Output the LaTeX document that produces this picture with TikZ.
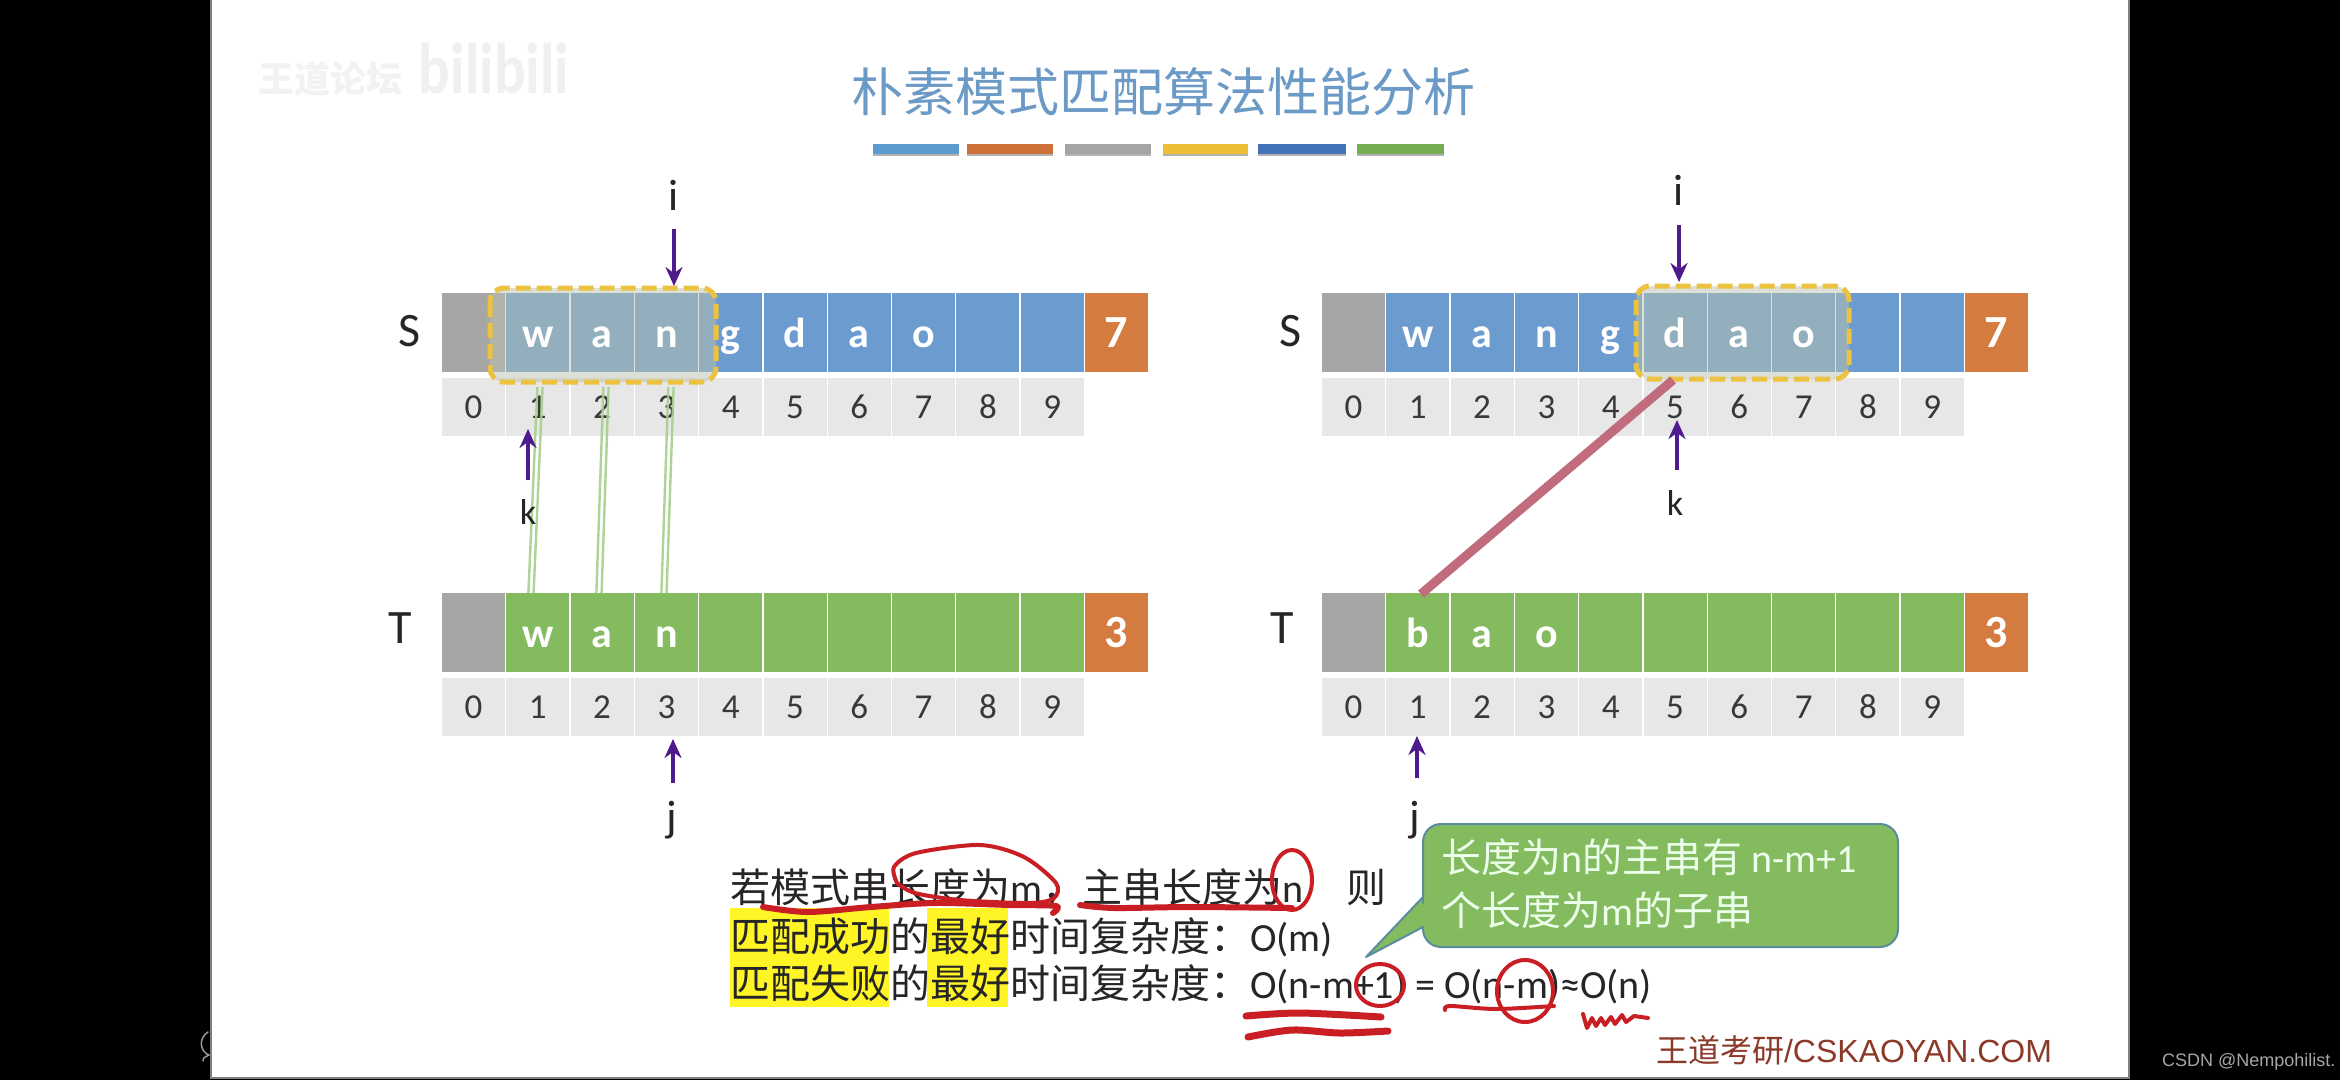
\documentclass[tikz,border=0pt]{standalone}
\usepackage{fontspec}
\setmainfont{Carlito}
\newfontfamily\cjk{Noto Sans CJK SC}
\newfontfamily\arial{Liberation Sans}
\usetikzlibrary{arrows.meta,calc}
\definecolor{cblue}{HTML}{6C9BD0}
\definecolor{corange}{HTML}{D47C40}
\definecolor{cgray}{HTML}{A6A6A6}
\definecolor{cgreen}{HTML}{84BB5E}
\definecolor{cidx}{HTML}{E7E7E7}
\definecolor{cpurple}{HTML}{4F1A8C}
\definecolor{cdash}{HTML}{EBC340}
\definecolor{cink}{HTML}{C81E24}
\definecolor{ctitle}{HTML}{6B9AC6}
\definecolor{cbrand}{HTML}{8B3A2A}
\definecolor{hlfill}{HTML}{BAC3AE}
\definecolor{mismatch}{HTML}{C06C7C}
\definecolor{cmatch}{HTML}{A6CF8C}
\definecolor{cborder}{HTML}{5A8C9E}
\newcommand{\fs}[1]{\fontsize{#1}{#1}\selectfont}
\tikzset{
  cell/.style={minimum width=63pt,minimum height=79pt,inner sep=0pt,outer sep=0pt,fill=#1},
  idx/.style={minimum width=63pt,minimum height=58pt,inner sep=0pt,outer sep=0pt,fill=cidx,text=black!78,font=\fs{35}},
  letter/.style={text=white,font=\fs{42}\bfseries,inner sep=0pt},
  count/.style={text=white,font=\fs{46}\bfseries,inner sep=0pt},
  lab/.style={text=black!85,font=\fs{44},inner sep=0pt},
  rowname/.style={text=black!85,font=\fs{48},inner sep=0pt},
  ptr/.style={cpurple,line width=4pt,-{Stealth[length=19pt,width=17pt]}},
  dashbox/.style={draw=cdash,line width=5pt,rounded corners=14pt,dash pattern=on 15pt off 6pt,fill=hlfill,fill opacity=.5},
  match/.style={draw=cmatch,line width=2.4pt,opacity=.9},
  miss/.style={draw=mismatch,line width=9pt},
  ink/.style={cink,line width=4pt,line cap=round,line join=round},
  inkb/.style={ink,line width=7pt},
  bar/.style={minimum height=10pt,inner sep=0pt,outer sep=0pt,fill=#1},
  body/.style={anchor=west,inner sep=0pt,text=black!85,font=\fs{40}},
  calltext/.style={anchor=west,inner sep=0pt,text=green!8!white,font=\fs{40}},
}
% prefix, left x, top y of strings, body colour, count
\newcommand{\strrow}[5]{%
  \node[cell=cgray] (#1c0) at (#2+31.5,#3+39.5) {};
  \foreach \n in {1,...,9}{\node[cell=#4] (#1c\n) at ({#2+31.5+64.3*\n},#3+39.5) {};}
  \node[cell=corange] (#1end) at ({#2+31.5+64.3*10},#3+39.5) {};
  \node[count] (#1num) at (#1end) {#5};
  \foreach \n in {0,...,9}{\node[idx] (#1i\n) at ({#2+31.5+64.3*\n},#3+114) {\n};}
}
\newcommand{\matchpair}[2]{%
  \draw[match] ([xshift=-2.6pt]#1) -- ([xshift=-2.6pt]#2);
  \draw[match] ([xshift=2.6pt]#1) -- ([xshift=2.6pt]#2);
}
\begin{document}
\begin{tikzpicture}[x=1pt,y=-1pt]
\useasboundingbox (0,0) rectangle (2340,1080);
\fill[black] (0,0) rectangle (2340,1080);
\fill[white] (211,0) rectangle (2129,1077);
\draw[gray,line width=1.5pt] (211,0) -- (211,1078) -- (2129,1078) -- (2129,0);
\draw[gray!80,line width=1.5pt,line cap=round] (208,1032) .. controls (198,1038) and (200,1052) .. (209,1055) .. controls (203,1058) .. (203,1061);

% watermark
\node[text=black!5,font=\cjk\bfseries\fs{36},inner sep=0pt] (wm1) at (330,79) {王道论坛};
\node[text=black!6,font=\bfseries\fs{72},inner sep=0pt,xscale=.82] (wm2) at (494,68) {bilibili};

% title
\node[text=ctitle,font=\cjk\fs{52},inner sep=0pt] (title) at (1163,92) {朴素模式匹配算法性能分析};
\foreach \a/\b/\c/\k in {873/959/5B9BD0/a,967/1053/CC7238/b,1065/1151/A5A5A5/c,1163/1248/EDBE35/d,1258/1346/4472B8/e,1357/1444/74AE50/f}{
  \definecolor{tmp}{HTML}{\c}
  \fill[black!30] (\a,147) rectangle (\b,156);
  \node[bar=tmp,minimum width=\b pt-\a pt] (bar\k) at ({(\a+\b)/2},149) {};
}

% left column
\strrow{A}{442}{293}{cblue}{7}
\strrow{B}{442}{593}{cgreen}{3}
% right column
\strrow{C}{1322}{293}{cblue}{7}
\strrow{D}{1322}{593}{cgreen}{3}

% highlight windows
\draw[dashbox] (490,288) rectangle (716,382);
\draw[dashbox] (1636,286) rectangle (1849,379);

% cell letters
\foreach \p/\n/\t in {A/1/w,A/2/a,A/3/n,A/4/g,A/5/d,A/6/a,A/7/o,C/1/w,C/2/a,C/3/n,C/4/g,C/5/d,C/6/a,C/7/o,B/1/w,B/2/a,B/3/n,D/1/b,D/2/a,D/3/o}{
  \node[letter,anchor=base] (\p l\n) at ($(\p c\n)+(0,15)$) {\t};
}
% row names
\node[rowname] (Sa) at (410,331) {S};
\node[rowname] (Ta) at (400,628) {T};
\node[rowname] (Sc) at (1291,331) {S};
\node[rowname] (Tc) at (1282,628) {T};

% match lines
\coordinate (m1a) at (540,387); \coordinate (m1b) at (531,593);
\coordinate (m2a) at (606,387); \coordinate (m2b) at (599,593);
\coordinate (m3a) at (671,387); \coordinate (m3b) at (664,593);
\matchpair{m1a}{m1b}
\matchpair{m2a}{m2b}
\matchpair{m3a}{m3b}

% mismatch line
\coordinate (xa) at (1673,380); \coordinate (xb) at (1421,594);
\draw[miss] (xa) -- (xb);

% pointers left
\node[lab] (ia) at (674,195) {i};
\coordinate (ia0) at (674,229); \coordinate (ia1) at (674,286);
\draw[ptr] (ia0) -- (ia1);
\node[lab,font=\fs{36}] (ka) at (528,512) {k};
\coordinate (ka0) at (528,480); \coordinate (ka1) at (528,429);
\draw[ptr] (ka0) -- (ka1);
\node[lab] (ja) at (672,820) {j};
\coordinate (ja0) at (673,783); \coordinate (ja1) at (673,739);
\draw[ptr] (ja0) -- (ja1);
% pointers right
\node[lab] (ic) at (1679,190) {i};
\coordinate (ic0) at (1679,225); \coordinate (ic1) at (1679,282);
\draw[ptr] (ic0) -- (ic1);
\node[lab,font=\fs{36}] (kc) at (1675,503) {k};
\coordinate (kc0) at (1677,470); \coordinate (kc1) at (1677,420);
\draw[ptr] (kc0) -- (kc1);
\node[lab] (jc) at (1415,820) {j};
\coordinate (jc0) at (1417,778); \coordinate (jc1) at (1417,736);
\draw[ptr] (jc0) -- (jc1);

% yellow highlights
\fill[yellow!85!white] (730,908) rectangle (889,1007);
\fill[yellow!85!white] (927,908) rectangle (1008,1007);

% bottom text
\node[body] (l1) at (730,888) {{\cjk 若模式串长度为}m{\cjk ，主串长度为}n\hspace*{43pt}{\cjk 则}};
\node[body] (l2) at (730,937) {{\cjk 匹配成功的最好时间复杂度：}O(m)};
\node[body] (l3) at (730,984) {{\cjk 匹配失败的最好时间复杂度：}O(n-m+1) = O(n-m)≈O(n)};

% callout
\draw[draw=cborder,fill=cgreen,line width=2pt,line join=round,rounded corners=18pt]
  (1423,927) -- (1423,947) -- (1898,947) -- (1898,824) -- (1423,824) -- (1423,885) [sharp corners] -- (1423,897) -- (1366,957) -- cycle;
\node[calltext] (co1) at (1441,857) {{\cjk 长度为}n{\cjk 的主串有} n-m+1};
\node[calltext] (co2) at (1441,910) {{\cjk 个长度为}m{\cjk 的子串}};

% red ink
\draw[ink] plot[smooth] coordinates {(897,883) (894,867) (916,853) (980,845) (1024,857) (1056,883) (1054,898) (1030,903) (960,900) (915,893) (897,883)};
\draw[ink,line width=6pt] plot[smooth] coordinates {(763,907) (808,912) (871,907) (935,903) (1010,905) (1056,906) (1053,913)};
\draw[ink,line width=6pt] plot[smooth] coordinates {(1080,905) (1114,908) (1190,907) (1292,908)};
\draw[ink] (1292,880) ellipse[x radius=20pt,y radius=30pt];
\draw[ink] (1380,985) ellipse[x radius=24pt,y radius=21pt];
\draw[ink] (1525,991) ellipse[x radius=28pt,y radius=31pt];
\draw[inkb] plot[smooth] coordinates {(1246,1016) (1300,1013) (1381,1017)};
\draw[inkb] plot[smooth] coordinates {(1248,1037) (1292,1030) (1340,1033) (1388,1031)};
\draw[ink] plot[smooth] coordinates {(1445,1010) (1450,1006) (1496,1009) (1554,1006)};
\draw[ink] (1583,1014) -- (1587,1028) -- (1592,1018) -- (1596,1026) -- (1601,1018) -- (1605,1025) -- (1611,1017) -- (1615,1024) -- (1622,1015) -- (1626,1022) -- (1634,1016) -- (1648,1018);

% brand
\node[text=cbrand,font=\arial\fs{32},inner sep=0pt] (brand) at (1854,1050) {{\cjk 王道考研}/CSKAOYAN.COM};
\node[anchor=west,text=black!35,font=\arial\fs{18},inner sep=0pt] (csdn) at (2162,1062) {CSDN @Nempohilist.};
\end{tikzpicture}
\end{document}
